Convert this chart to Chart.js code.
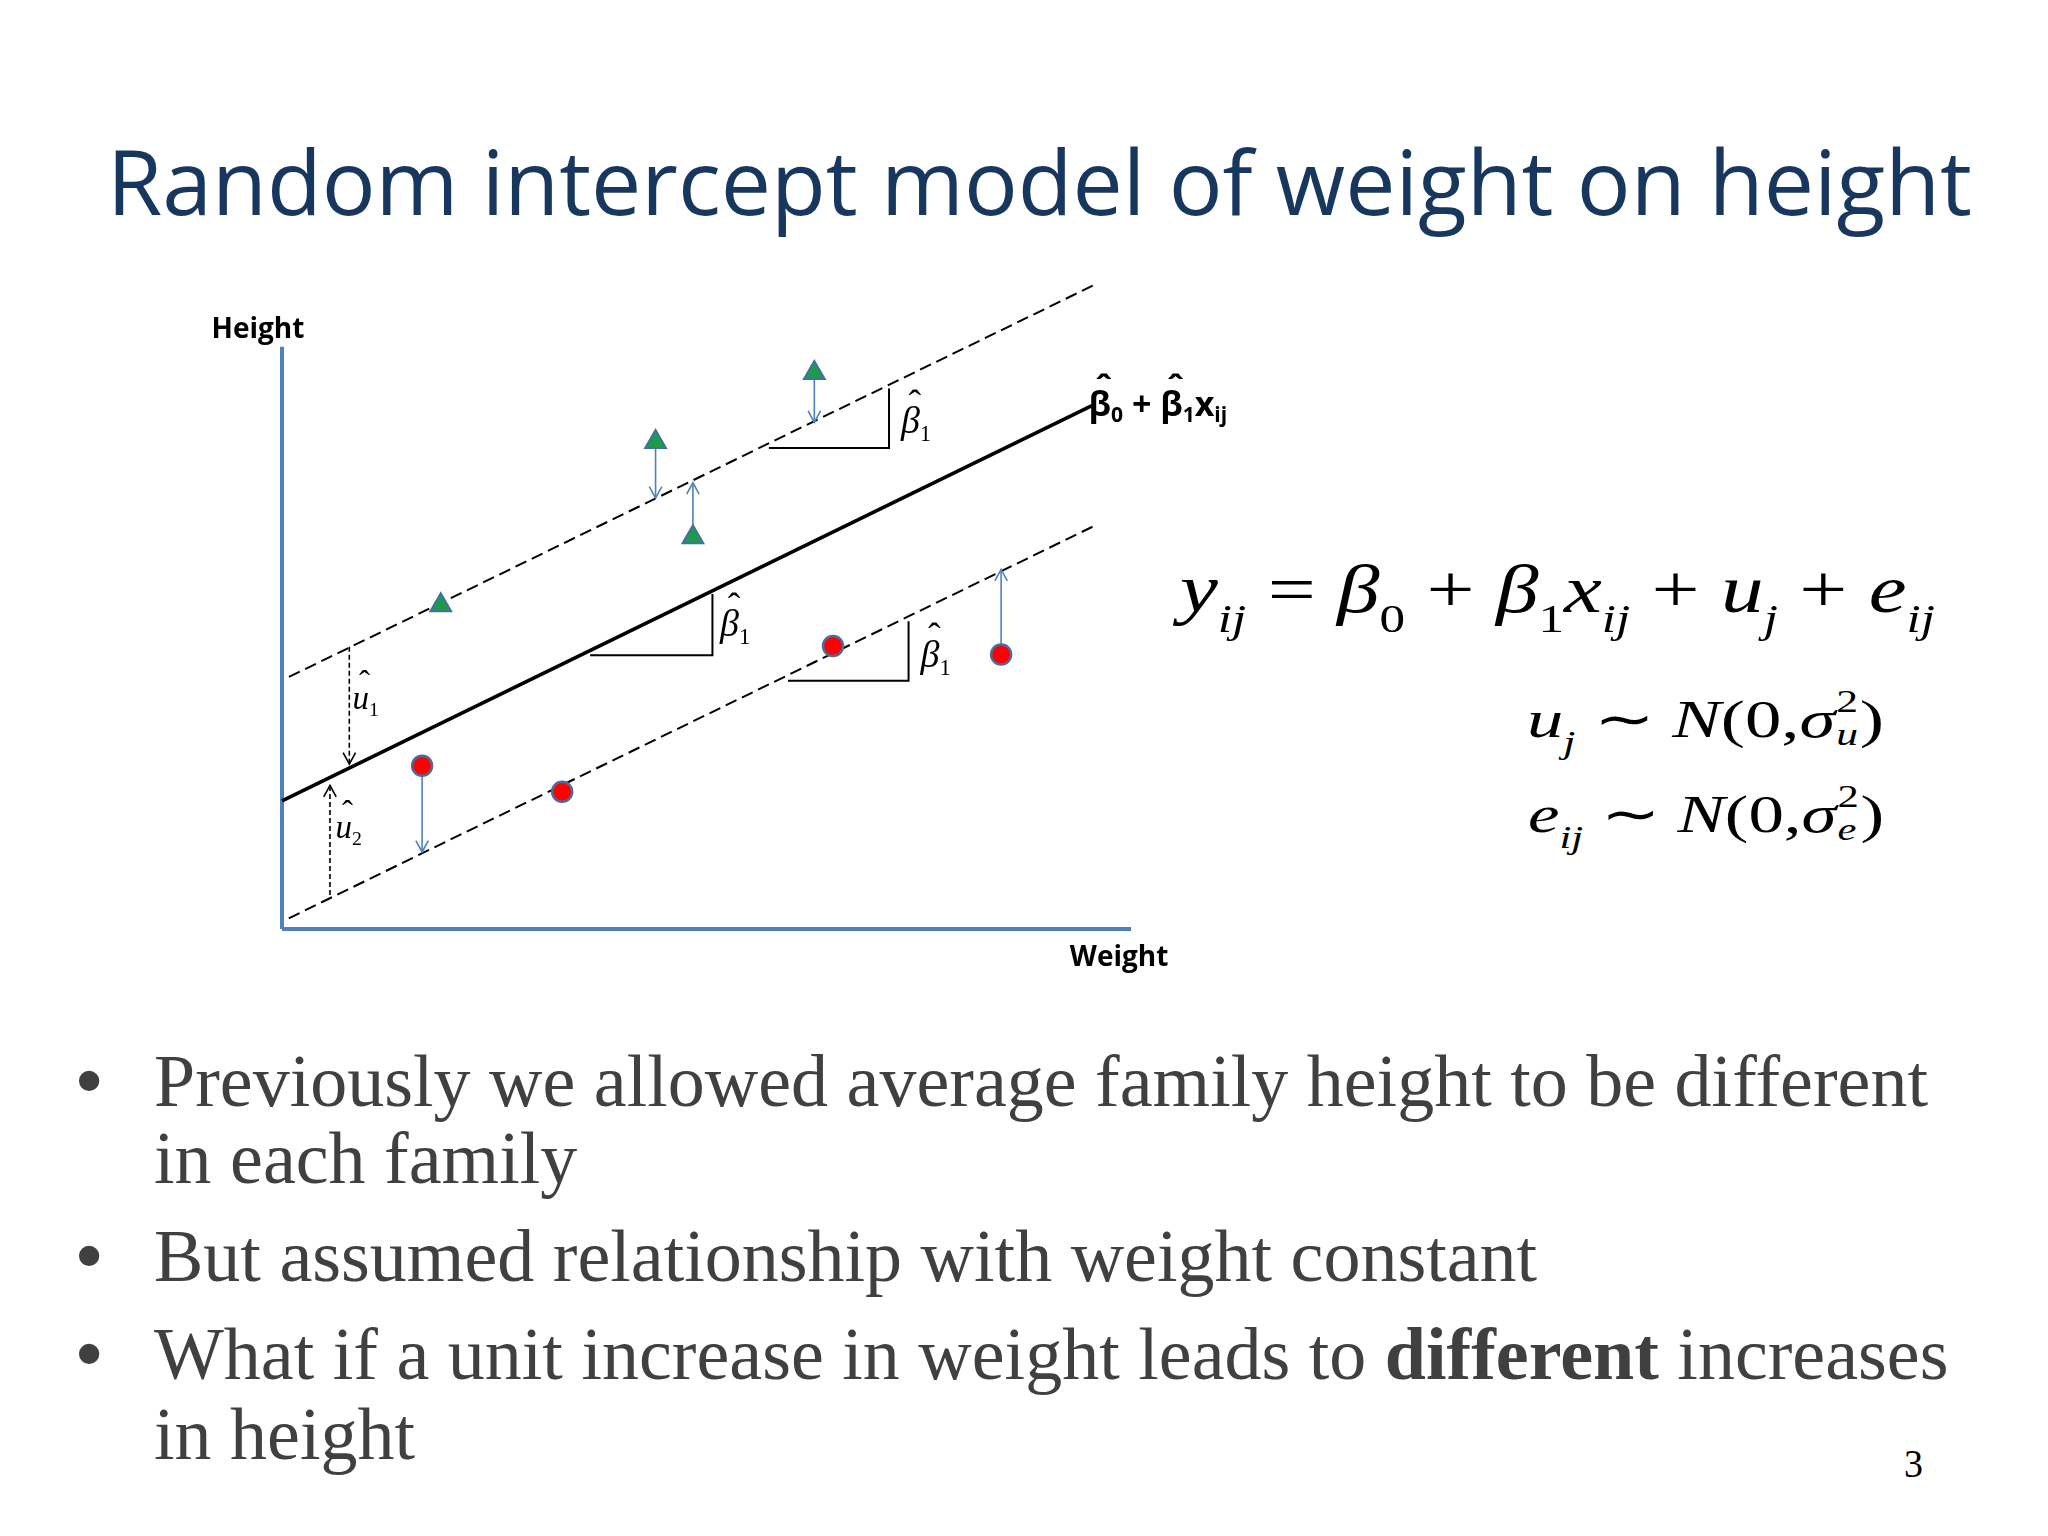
<!DOCTYPE html>
<html>
<head>
<meta charset="utf-8">
<script src="https://cdn.jsdelivr.net/npm/chart.js@4.4.0/dist/chart.umd.min.js"></script>
<style>
html,body{margin:0;padding:0;background:#fff;}
body{width:2048px;height:1536px;position:relative;overflow:hidden;}
.t{position:absolute;white-space:nowrap;transform-origin:0 0;line-height:1;}
#title{font-family:"Open Sans";font-size:90px;color:#17375E;}
.bul{font-family:"Liberation Serif";font-size:75px;color:#404040;}
.dot{font-family:"Liberation Sans";font-size:75px;color:#404040;}
.eq{font-family:"Liberation Serif";color:#000;}
.sub{font-size:.6em;vertical-align:-.5em;}
.stk{display:inline-flex;flex-direction:column;font-size:.6em;line-height:1.05;vertical-align:.8em;margin:0 .04em 0 .02em;}
#pg{font-family:"Liberation Serif";font-size:40px;color:#000;}
#chartBox{position:absolute;left:200px;top:230px;width:1000px;height:740px;}
.lab{position:absolute;white-space:nowrap;line-height:1;color:#000;}
.axt{font-family:"Open Sans";font-weight:bold;font-size:28px;}
.gr{font-family:"Liberation Serif";font-style:italic;font-size:38px;}
.gr .s{font-style:normal;font-size:.6em;vertical-align:-.35em;}
.hat{position:relative;display:inline-block;}
.hat::after{content:"\02C6";position:absolute;left:.2em;top:-.45em;font-style:normal;}
.fit{font-family:"Open Sans";font-weight:bold;font-size:34px;}
.fit .s{font-size:.62em;vertical-align:-.3em;}
</style>
</head>
<body>

<div id="title" class="t">Random intercept model of weight on height</div>

<div id="chartBox">
  <canvas id="grafico"></canvas>
  <div id="labHeight" class="lab axt">Height</div>
  <div id="labWeight" class="lab axt">Weight</div>
  <div id="labFit" class="lab fit"><span class="hat">β</span><span class="s">0</span> + <span class="hat">β</span><span class="s">1</span>x<span class="s">ij</span></div>
  <div id="labB1" class="lab gr"><span class="hat">β</span><span class="s">1</span></div>
  <div id="labB2" class="lab gr"><span class="hat">β</span><span class="s">1</span></div>
  <div id="labB3" class="lab gr"><span class="hat">β</span><span class="s">1</span></div>
  <div id="labU1" class="lab gr" style="font-size:33px"><span class="hat">u</span><span class="s">1</span></div>
  <div id="labU2" class="lab gr" style="font-size:33px"><span class="hat">u</span><span class="s">2</span></div>
</div>

<div id="eq1" class="t eq" style="font-size:68px"><i>y</i><span class="sub"><i>ij</i></span> = <i>β</i><span class="sub">0</span> + <i>β</i><span class="sub">1</span><i>x</i><span class="sub"><i>ij</i></span> + <i>u</i><span class="sub"><i>j</i></span> + <i>e</i><span class="sub"><i>ij</i></span></div>
<div id="eq2" class="t eq" style="font-size:53px"><i>u</i><span class="sub"><i>j</i></span> ∼ <i>N</i>(0,<i>σ</i><span class="stk"><span>2</span><span><i>u</i></span></span>)</div>
<div id="eq3" class="t eq" style="font-size:53px"><i>e</i><span class="sub"><i>ij</i></span> ∼ <i>N</i>(0,<i>σ</i><span class="stk"><span>2</span><span><i>e</i></span></span>)</div>

<div id="d1" class="t dot">•</div>
<div id="d3" class="t dot">•</div>
<div id="d4" class="t dot">•</div>
<div id="b1" class="t bul">Previously we allowed average family height to be different</div>
<div id="b2" class="t bul">in each family</div>
<div id="b3" class="t bul">But assumed relationship with weight constant</div>
<div id="b4" class="t bul">What if a unit increase in weight leads to <b>different</b> increases</div>
<div id="b5" class="t bul">in height</div>
<div id="pg" class="t">3</div>

<script>
// diagram values (weight on x, height on y, arbitrary units)
const axisY = [{x:0,y:0},{x:0,y:68.5}];
const axisX = [{x:0,y:0},{x:100,y:0}];
const fitLine = [{x:0,y:15.06},{x:95.4,y:61.57}];
const upperLine = [{x:0.82,y:29.65},{x:95.64,y:75.76}];
const lowerLine = [{x:0.8,y:1.26},{x:95.64,y:47.41}];
const family1 = [{x:18.7,y:38.1},{x:44.0,y:57.3},{x:48.4,y:46.1},{x:62.7,y:65.4}];
const family2 = [{x:16.5,y:19.2},{x:33.0,y:16.15},{x:64.9,y:33.3},{x:84.7,y:32.3}];
const residuals = [
  [{x:16.5,y:18.1},{x:16.5,y:9.06}],
  [{x:44.0,y:56.6},{x:44.0,y:50.7}],
  [{x:48.4,y:47.5},{x:48.4,y:52.5}],
  [{x:62.7,y:64.7},{x:62.7,y:59.6}],
  [{x:84.7,y:33.4},{x:84.7,y:42.3}]
];
const uArrows = [
  [{x:7.93,y:33.2},{x:7.93,y:19.4}],
  [{x:5.65,y:4.0},{x:5.65,y:16.9}]
];
const slopeSteps = [
  [{x:36.3,y:32.2},{x:50.7,y:32.2},{x:50.7,y:39.4}],
  [{x:57.35,y:56.6},{x:71.5,y:56.6},{x:71.5,y:63.6}],
  [{x:59.6,y:29.2},{x:73.8,y:29.2},{x:73.8,y:36.2}]
];

// where the labels sit (x = left edge, y = middle), in the same units
const labelAt = {
  labHeight:[-8.3,70.8], labWeight:[92.8,-3.06], labFit:[95.0,61.7],
  labB1:[51.6,35.6], labB2:[72.9,59.5], labB3:[75.2,32.0],
  labU1:[8.3,26.8], labU2:[6.3,11.6]
};

var azul = '#4F81BD';
var datasets = [];
datasets.push({data:family1, pointStyle:'triangle', pointRadius:12, backgroundColor:'#1E9A4C', borderColor:'#41719C', borderWidth:2, order:0});
datasets.push({data:family2, pointStyle:'circle', pointRadius:10, backgroundColor:'#FF0000', borderColor:'#4F6A9A', borderWidth:2.5, order:0});
residuals.forEach(function(r){
  datasets.push({data:r, showLine:true, borderColor:azul, borderWidth:1.6, pointRadius:0, arrow:true, order:1});
});
uArrows.forEach(function(r){
  datasets.push({data:r, showLine:true, borderColor:'#000', borderWidth:1.6, borderDash:[5,3], pointRadius:0, arrow:true, order:1});
});
slopeSteps.forEach(function(s){
  datasets.push({data:s, showLine:true, borderColor:'#000', borderWidth:2, pointRadius:0, order:2});
});
datasets.push({data:fitLine, showLine:true, borderColor:'#000', borderWidth:3.6, pointRadius:0, order:2});
datasets.push({data:upperLine, showLine:true, borderColor:'#000', borderWidth:2, borderDash:[12,6], pointRadius:0, order:2});
datasets.push({data:lowerLine, showLine:true, borderColor:'#000', borderWidth:2, borderDash:[12,6], pointRadius:0, order:2});
datasets.push({data:axisY, showLine:true, borderColor:azul, borderWidth:4, pointRadius:0, order:3});
datasets.push({data:axisX, showLine:true, borderColor:azul, borderWidth:4, pointRadius:0, order:3});

const flechas = {
  id:'flechas',
  afterDatasetsDraw(chart){
    var ctx = chart.ctx;
    chart.data.datasets.forEach(function(ds, i){
      if (!ds.arrow) return;
      var pts = chart.getDatasetMeta(i).data;
      var a = pts[pts.length-2], b = pts[pts.length-1];
      var ang = Math.atan2(b.y-a.y, b.x-a.x);
      ctx.save();
      ctx.strokeStyle = ds.borderColor;
      ctx.lineWidth = ds.borderWidth;
      ctx.setLineDash([]);
      ctx.beginPath();
      ctx.moveTo(b.x - 13*Math.cos(ang-0.5), b.y - 13*Math.sin(ang-0.5));
      ctx.lineTo(b.x, b.y);
      ctx.lineTo(b.x - 13*Math.cos(ang+0.5), b.y - 13*Math.sin(ang+0.5));
      ctx.stroke();
      ctx.restore();
    });
  },
  afterRender(chart){
    var sx = chart.scales.x, sy = chart.scales.y;
    Object.keys(labelAt).forEach(function(id){
      var el = document.getElementById(id);
      el.style.left = sx.getPixelForValue(labelAt[id][0]) + 'px';
      el.style.top = (sy.getPixelForValue(labelAt[id][1]) - el.offsetHeight/2) + 'px';
    });
  }
};

var ctx = document.getElementById('grafico').getContext('2d');
var grafico = new Chart(ctx, {
  type: 'scatter',
  data: {datasets: datasets},
  options: {
    responsive: true,
    maintainAspectRatio: false,
    animation: false,
    events: [],
    layout: {padding: {left:82, right:69, top:19, bottom:41}},
    scales: {
      x: {type:'linear', min:0, max:100, display:false},
      y: {type:'linear', min:0, max:80, display:false}
    },
    elements: {line: {tension:0}},
    datasets: {scatter: {clip:false}},
    plugins: {legend:{display:false}, tooltip:{enabled:false}}
  },
  plugins: [flechas]
});

// put a text line so that its baseline is at y, optionally squeezing it to a width
function colocar(id, x, base, ancho, escala){
  var el = document.getElementById(id);
  el.style.left = x + 'px';
  el.style.top = '0px';
  var m = document.createElement('span');
  m.style.display = 'inline-block'; m.style.width = '0'; m.style.height = '0';
  el.appendChild(m);
  var b = m.getBoundingClientRect().top - el.getBoundingClientRect().top;
  el.removeChild(m);
  el.style.top = (base - b) + 'px';
  var s = escala;
  if (ancho) s = ancho / el.getBoundingClientRect().width;
  if (s) el.style.transform = 'scaleX(' + s + ')';
  return s;
}

function maquetar(){
  colocar('title', 107, 215, 1865);
  var s = colocar('b1', 154, 1106, 1774);
  colocar('b2', 154, 1183, null, s);
  colocar('b3', 154, 1281, null, s);
  colocar('b4', 154, 1379, null, s);
  colocar('b5', 154, 1459, null, s);
  colocar('d1', 76, 1106, null, 1);
  colocar('d3', 76, 1281, null, 1);
  colocar('d4', 76, 1379, null, 1);
  colocar('pg', 1904, 1477, 19);
  colocar('eq1', 1180, 612, 755);
  colocar('eq2', 1527, 737, 357);
  colocar('eq3', 1528, 832, 356);
}
if (document.fonts && document.fonts.ready) document.fonts.ready.then(maquetar); else maquetar();
</script>
</body>
</html>
